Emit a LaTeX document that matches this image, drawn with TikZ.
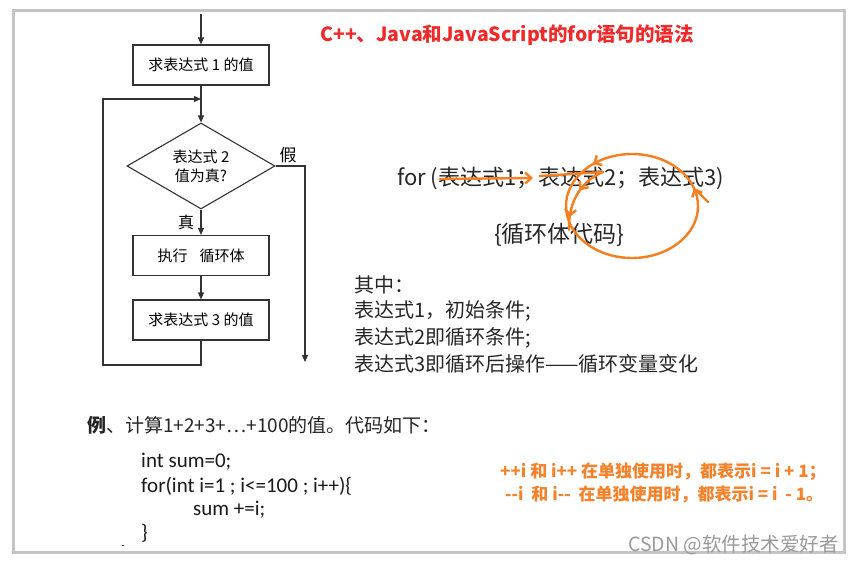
\documentclass[tikz,border=0pt]{standalone}
\usepackage{fontspec}
\setmainfont{Noto Sans CJK SC}
\newfontfamily\codefont{Carlito}
\usetikzlibrary{arrows.meta,shapes.geometric,decorations.markings}
\definecolor{framegray}{HTML}{C4C4C4}
\definecolor{titlered}{HTML}{EE2A2A}
\definecolor{orng}{HTML}{F57F20}
\definecolor{otext}{HTML}{F5822A}
\definecolor{fline}{HTML}{333333}
\tikzset{
  fbox/.style={draw=fline, line width=1.1pt, minimum width=136pt, minimum height=40pt, inner sep=0pt, font=\fontsize{15}{17}\selectfont},
  farr/.style={draw=fline, line width=1.1pt, -{Triangle[length=7pt,width=6pt]}},
  fplain/.style={draw=fline, line width=1.1pt},
  ol/.style={draw=orng, line width=2.4pt, line cap=round},
  otip/.style={-{Straight Barb[length=6pt,width=11pt]}},
  txt/.style={anchor=west, inner sep=0pt, text=black!85},
  code/.style={anchor=west, inner sep=0pt, font=\codefont\fontsize{21}{24}\selectfont, text=black!90},
  note/.style={anchor=west, inner sep=0pt, font=\bfseries\fontsize{17}{19}\selectfont, text=otext},
}
\begin{document}
\begin{tikzpicture}[x=1pt,y=-1pt]
\useasboundingbox[fill=white] (0,0) rectangle (854,564);
\draw[framegray, line width=3pt] (13,11) rectangle (844,552);

% flowchart
\coordinate (start) at (201,14);
\node[fbox] (b1) at (201,65) {求表达式 1 的值};
\coordinate (m) at (201,99);
\node[diamond, draw=fline, line width=1.1pt, minimum width=148pt, minimum height=86pt, aspect=1.72, inner sep=0pt, align=center, font=\fontsize{15}{19}\selectfont] (d) at (201,166) {表达式 2\\值为真?};
\node[fbox] (b2) at (201,255.5) {执行\hspace{12pt}循环体};
\node[fbox] (b3) at (201,320) {求表达式 3 的值};
\coordinate (lb) at (103,365);
\coordinate (fend) at (305,362);
\node[inner sep=0pt, font=\fontsize{17}{19}\selectfont] (jia) at (288,155) {假};
\node[inner sep=0pt, font=\fontsize{16}{18}\selectfont] (zhen) at (186,222) {真};

\draw[farr] (start) -- (b1.north);
\draw[fplain] (b1.south) -- (m);
\draw[farr] (m) -- (d.north);
\draw[farr] (d.south) -- (b2.north);
\draw[farr] (b2.south) -- (b3.north);
\draw[farr] (b3.south) |- (lb) |- (m);
\draw[farr] (d.east) -| (fend);

% title
\node[anchor=west, inner sep=0pt, text=titlered, font=\bfseries\fontsize{19.5}{22}\selectfont] (title) at (320,35) {C++、Java和JavaScript的for语句的语法};

% for syntax
\node[txt, font=\fontsize{22}{26}\selectfont] (forl) at (397,178) {for (表达式1；表达式2；表达式3)};
\node[txt, font=\fontsize{23}{26}\selectfont] (body) at (494,235) {\{循环体代码\}};

% orange annotations
\coordinate (o1) at (440,179);
\coordinate (o2) at (533,178);
\coordinate (o3) at (540,176);
\coordinate (o4) at (603,172);
\coordinate (o5) at (569,230);
\coordinate (oc) at (632,206);
\coordinate (t1) at (696,190);
\coordinate (t2) at (708,202);
\draw[ol, otip] (o1) -- (o2);
\draw[ol] (o3) -- (o4);
\draw[ol, postaction={decorate}, decoration={markings,
   mark=at position 0.42 with {\arrow[orng, line width=2.4pt]{Straight Barb[length=6pt,width=11pt]}},
   mark=at position 0.82 with {\arrow[orng, line width=2.4pt]{Straight Barb[length=6pt,width=11pt]}}}]
  (o4) .. controls (583,180) and (568,200) .. (o5);
\draw[ol, postaction={decorate}, decoration={markings,
   mark=at position 0.05 with {\arrow[orng, line width=2.4pt]{Straight Barb[length=6pt,width=11pt]}},
   mark=at position 0.36 with {\arrow[orng, line width=2.4pt]{Straight Barb[length=6pt,width=11pt]}}}]
  ([xshift=66pt]oc) arc[start angle=0, end angle=-360, x radius=66, y radius=52];
\draw[ol] (t1) -- (t2);

% explanation
\node[txt, font=\fontsize{20}{22}\selectfont] (e0) at (354,285) {其中：};
\node[txt, font=\fontsize{20}{22}\selectfont] (e1) at (354,311) {表达式1，初始条件;};
\node[txt, font=\fontsize{20}{22}\selectfont] (e2) at (354,338) {表达式2即循环条件;};
\node[txt, font=\fontsize{20}{22}\selectfont] (e3) at (354,364) {表达式3即循环后操作——循环变量变化};

% example
\node[txt, font=\fontsize{19}{22}\selectfont] (ex) at (87,425) {\textbf{例}、计算1+2+3+…+100的值。代码如下：};
\node[code] (c1) at (141,462) {int sum=0;};
\node[code] (c2) at (141,486) {for(int i=1 ; i<=100 ; i++)\{};
\node[code] (c3) at (193,510) {sum +=i;};
\node[code] (c4) at (141,533) {\}};
\fill[black!80] (121.5,544.5) rectangle (124,546);

% notes
\node[note] (n1) at (500,472) {++i 和 i++ 在单独使用时，都表示i = i + 1；};
\node[note] (n2) at (505,495) {-{}-i\ \ 和 i-{}-\ \ 在单独使用时，都表示i = i\ \ - 1。};

% watermark
\node[anchor=west, inner sep=0pt, text=black!40, font=\fontsize{19.5}{22}\selectfont] (wm) at (628,545) {CSDN @软件技术爱好者};
\end{tikzpicture}
\end{document}
